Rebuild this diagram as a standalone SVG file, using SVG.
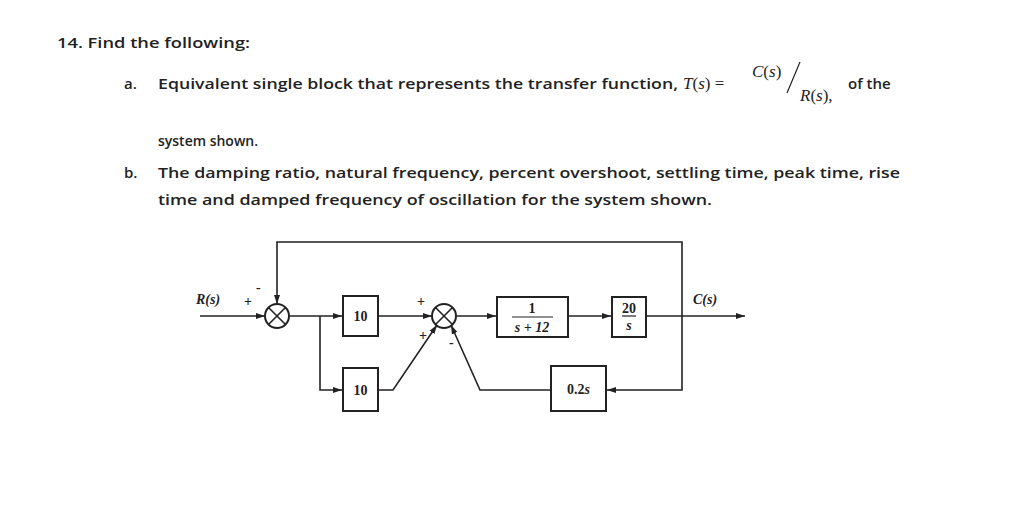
<svg xmlns="http://www.w3.org/2000/svg" width="1024" height="522" viewBox="0 0 1024 522">
<defs>
<marker id="ar" markerWidth="10" markerHeight="8" refX="9" refY="4" orient="auto" markerUnits="userSpaceOnUse"><path d="M0,1 L9,4 L0,7 Z" fill="#222"/></marker>
<style>
.t{font-family:"Open Sans","Liberation Sans",sans-serif;font-size:15px;fill:#222;font-weight:600}
.m{font-family:"Liberation Serif",serif;font-style:italic;font-size:17px;fill:#222}
.d{font-family:"Liberation Serif",serif;font-weight:bold;font-size:14px;fill:#222}
.di{font-family:"Liberation Serif",serif;font-weight:bold;font-style:italic;font-size:14px;fill:#222}
.b{fill:#fff;stroke:#222;stroke-width:2}
.l{fill:none;stroke:#222;stroke-width:1.6}
</style>
</defs>
<rect width="1024" height="522" fill="#fff"/>
<text class="t" x="57" y="48" textLength="193" lengthAdjust="spacingAndGlyphs">14. Find the following:</text>
<text class="t" x="124" y="89">a.</text>
<text class="t" x="158" y="89" textLength="520" lengthAdjust="spacingAndGlyphs">Equivalent single block that represents the transfer function,</text>
<text class="m" x="683" y="89">T<tspan font-style="normal">(</tspan>s<tspan font-style="normal">) =</tspan></text>
<text class="m" x="752" y="77">C<tspan font-style="normal">(</tspan>s<tspan font-style="normal">)</tspan></text>
<line x1="787" y1="93" x2="800" y2="62" stroke="#222" stroke-width="1.2"/>
<text class="m" x="800" y="101">R<tspan font-style="normal">(</tspan>s<tspan font-style="normal">)</tspan>,</text>
<text class="t" x="848" y="89">of the</text>
<text class="t" x="158" y="146" textLength="100" lengthAdjust="spacingAndGlyphs">system shown.</text>
<text class="t" x="124" y="178">b.</text>
<text class="t" x="158" y="178" textLength="742" lengthAdjust="spacingAndGlyphs">The damping ratio, natural frequency, percent overshoot, settling time, peak time, rise</text>
<text class="t" x="158" y="205" textLength="554" lengthAdjust="spacingAndGlyphs">time and damped frequency of oscillation for the system shown.</text>

<g id="connectors">
<path class="l" d="M200,316 H265" marker-end="url(#ar)"/>
<path class="l" d="M682,316 V242 H277 V304" marker-end="url(#ar)"/>
<path class="l" d="M289,316 H342" marker-end="url(#ar)"/>
<path class="l" d="M320,316 V390 H342" marker-end="url(#ar)"/>
<path class="l" d="M378,316 H432" marker-end="url(#ar)"/>
<path class="l" d="M378,390 H393 L437,325" marker-end="url(#ar)"/>
<path class="l" d="M551,390 H480 L451,325" marker-end="url(#ar)"/>
<path class="l" d="M456,316 H496" marker-end="url(#ar)"/>
<path class="l" d="M568,316 H611" marker-end="url(#ar)"/>
<path class="l" d="M646,316 H745" marker-end="url(#ar)"/>
<path class="l" d="M682,316 V390 H607" marker-end="url(#ar)"/>
</g>
<g id="labels">
<text class="di" x="196" y="304">R(s)</text>
<text class="d" x="244" y="306">+</text>
<text class="d" x="256" y="292">-</text>
<text class="d" x="417" y="306">+</text>
<text class="d" x="419" y="340">+</text>
<text class="d" x="449" y="347">-</text>
<text class="di" x="693" y="304">C(s)</text>
</g>
<g id="sum1"><circle class="b" cx="277" cy="316" r="12"/><path class="l" d="M268.5,307.5 L285.5,324.5 M285.5,307.5 L268.5,324.5" stroke-width="2"/></g>
<g id="sum2"><circle class="b" cx="444" cy="316" r="12"/><path class="l" d="M435.5,307.5 L452.5,324.5 M452.5,307.5 L435.5,324.5" stroke-width="2"/></g>
<g id="k1"><rect class="b" x="343" y="296" width="35" height="40"/><text class="d" x="360.5" y="321" text-anchor="middle">10</text></g>
<g id="k2"><rect class="b" x="343" y="368" width="35" height="43"/><text class="d" x="360.5" y="395" text-anchor="middle">10</text></g>
<g id="g1"><rect class="b" x="497" y="297" width="71" height="40"/><text class="d" x="532" y="313" text-anchor="middle">1</text><line x1="512" y1="317" x2="553" y2="317" stroke="#222" stroke-width="1.2"/><text class="di" x="532" y="332" text-anchor="middle">s + 12</text></g>
<g id="g2"><rect class="b" x="612" y="297" width="34" height="40"/><text class="d" x="629" y="313" text-anchor="middle">20</text><line x1="622" y1="316" x2="636" y2="316" stroke="#222" stroke-width="1.2"/><text class="di" x="629" y="330" text-anchor="middle">s</text></g>
<g id="h"><rect class="b" x="551" y="366" width="55" height="45"/><text class="d" x="578.5" y="394" text-anchor="middle">0.2<tspan font-style="italic">s</tspan></text></g>
</svg>
